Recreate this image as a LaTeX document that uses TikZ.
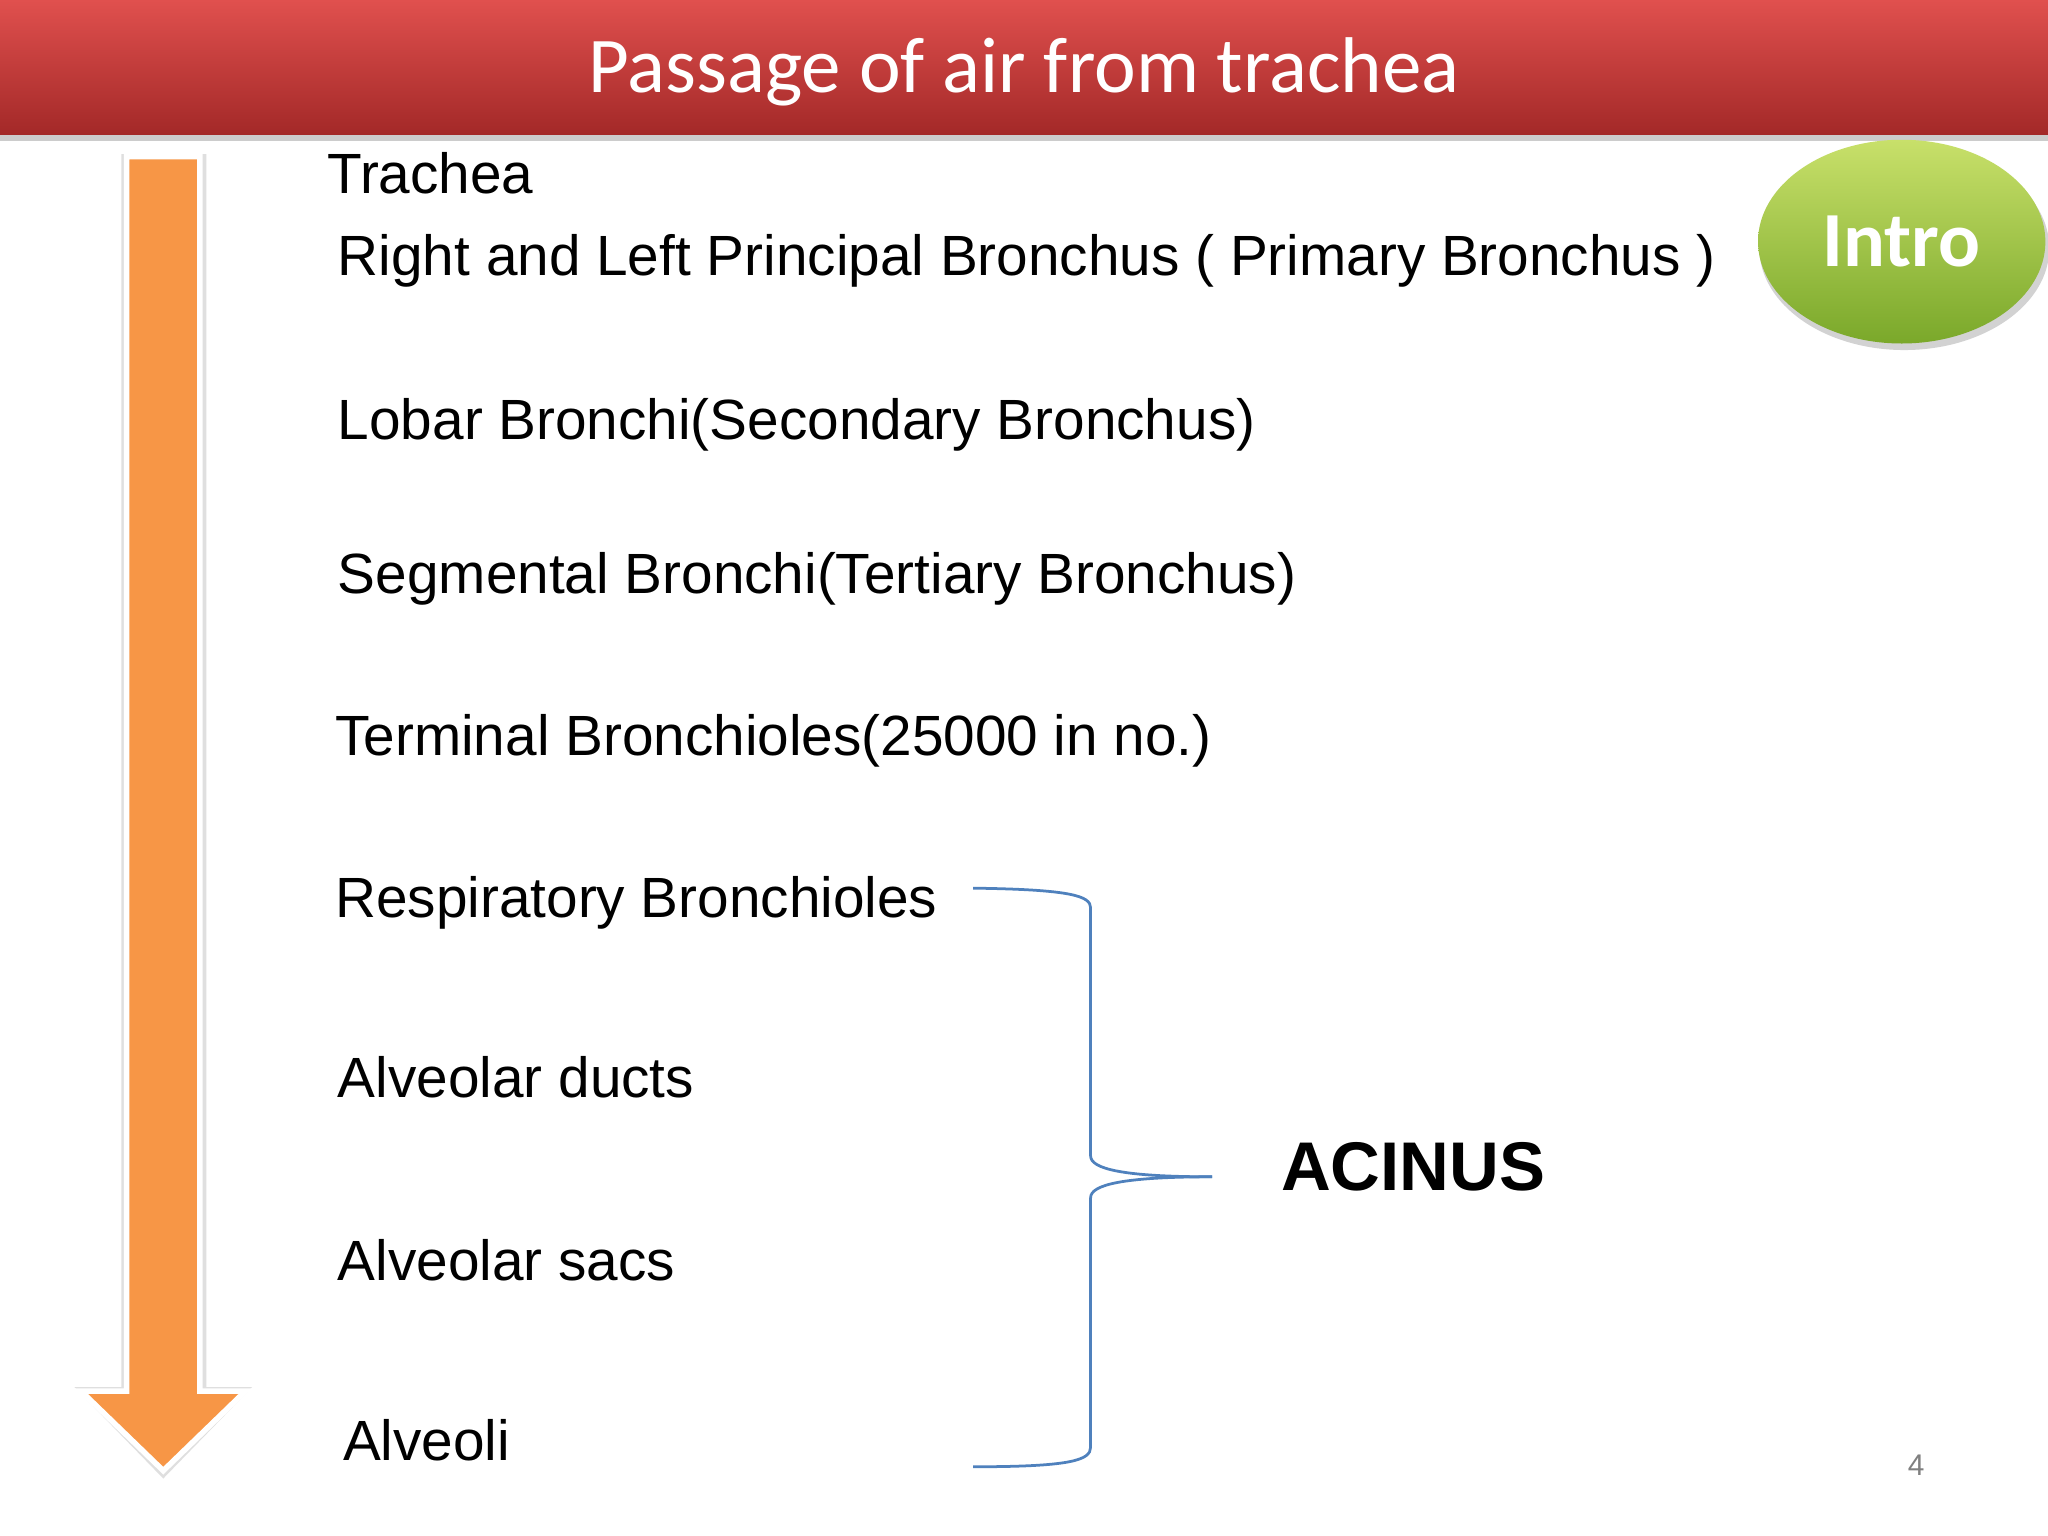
\documentclass[tikz,border=0pt]{standalone}
\usepackage{fontspec}
\setmainfont{Liberation Sans}
\newfontfamily\calib{Carlito}
\usetikzlibrary{shadows,shapes.geometric}
\definecolor{titred}{HTML}{C0302F}
\definecolor{titlight}{HTML}{E0504E}
\definecolor{orng}{HTML}{F79646}
\definecolor{bracecol}{HTML}{4F81BD}
\definecolor{grnA}{HTML}{C8E06A}
\definecolor{grnB}{HTML}{7AA82A}
\tikzset{item/.style={anchor=west,font=\fontsize{12.35}{14}\selectfont,inner sep=0pt}}
\begin{document}
\begin{tikzpicture}[x=0.01cm,y=-0.01cm]
\useasboundingbox (0,0) rectangle (1568,1176);
\fill[white] (0,0) rectangle (1568,1176);
\fill[gray!40] (0,100) rectangle (1568,108);
\shade[top color=titlight,bottom color=titred!85!black] (0,0) rectangle (1568,103);
\node[text=white,font=\calib\fontsize{17.2}{20}\selectfont] (title) at (784,55) {Passage of air from trachea};
% arrow
\fill[gray!25] (93,118) -- (158,118) -- (158,1062) -- (193,1062) -- (125,1132) -- (57,1062) -- (93,1062) -- cycle;
\fill[orng,draw=white,line width=1.2pt] (97,120) -- (153,120) -- (153,1065) -- (188,1065) -- (125,1126) -- (62,1065) -- (97,1065) -- cycle;
% intro
\fill[gray!35] (1458,190) ellipse (111 and 78);
\shade[top color=grnA,bottom color=grnB] (1456,185) ellipse (110 and 78);
\node[text=white,font=\calib\bfseries\fontsize{17}{20}\selectfont] (intro) at (1456,185) {Intro};
% items
\node[item] (t0) at (250,133) {Trachea};
\node[item] (t1) at (258,200) {Right and Left Principal Bronchus ( Primary Bronchus )};
\node[item] (t2) at (258,325) {Lobar Bronchi(Secondary Bronchus)};
\node[item] (t3) at (258,443) {Segmental Bronchi(Tertiary Bronchus)};
\node[item] (t4) at (256,567) {Terminal Bronchioles(25000 in no.)};
\node[item] (t5) at (256,691) {Respiratory Bronchioles};
\node[item] (t6) at (258,825) {Alveolar ducts};
\node[item] (t7) at (258,965) {Alveolar sacs};
\node[item] (t8) at (262,1103) {Alveoli};
% brace
\coordinate (btop) at (745,680);
\coordinate (bbot) at (745,1123);
\coordinate (bmid) at (928,901);
\draw[bracecol,line width=0.6pt] (btop) .. controls (820,681) and (835,686) .. (835,695) -- (835,885) .. controls (835,895) and (860,901) .. (bmid);
\draw[bracecol,line width=0.6pt] (bmid) .. controls (860,901) and (835,907) .. (835,917) -- (835,1108) .. controls (835,1118) and (820,1123) .. (bbot);
\node[font=\bfseries\fontsize{15}{18}\selectfont] (acinus) at (1082,893) {ACINUS};
\node[text=gray,font=\fontsize{6.5}{8}\selectfont] (pg) at (1467,1122) {4};
\end{tikzpicture}
\end{document}
